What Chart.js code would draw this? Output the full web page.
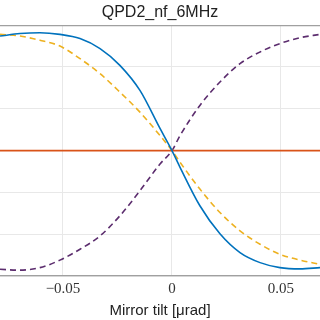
<!DOCTYPE html>
<html>
<head>
<meta charset="utf-8">
<script src="https://cdn.jsdelivr.net/npm/chart.js@4.4.1/dist/chart.umd.min.js"></script>
<style>
  html, body { margin: 0; padding: 0; background: #fff; }
</style>
</head>
<body>
<canvas id="chart" width="320" height="320"></canvas>
<script>
// mirror tilt values (urad), shared by all series
const tiltVals = [-0.0789, -0.0697, -0.0606, -0.0514, -0.0422, -0.0330, -0.0239, -0.0147, -0.0055,
    0, 0.0037, 0.0128, 0.0220, 0.0312, 0.0404, 0.0495, 0.0587, 0.0679];

const blueVals   = [2.74, 2.80, 2.82, 2.78, 2.68, 2.44, 2.04, 1.44, 0.53,
    0, -0.40, -1.32, -1.99, -2.44, -2.68, -2.80, -2.83, -2.80];
const orangeVals = [0, 0, 0, 0, 0, 0, 0, 0, 0,
    0, 0, 0, 0, 0, 0, 0, 0, 0];
const yellowVals = [2.78, 2.74, 2.64, 2.50, 2.20, 1.84, 1.40, 0.92, 0.36,
    0, -0.28, -0.92, -1.48, -1.92, -2.24, -2.48, -2.62, -2.72];
const purpleVals = [-2.84, -2.86, -2.80, -2.62, -2.36, -2.04, -1.56, -0.96, -0.32,
    0, 0.36, 1.08, 1.64, 2.08, 2.36, 2.56, 2.70, 2.78];

const xTicks = [-0.05, 0, 0.05];

function toPoints(vals) {
    return tiltVals.map((x, i) => ({ x: x, y: vals[i] }));
}

function makeSeries(vals, color, dashed) {
    return {
        data: toPoints(vals),
        borderColor: color,
        backgroundColor: color,
        borderWidth: 1.6,
        borderDash: dashed ? [6, 4] : [],
        pointRadius: 0,
        showLine: true,
        cubicInterpolationMode: 'monotone',
        fill: false
    };
}

const gridColor = '#e8e8e8';
const boxColor = '#a0a0a0';

new Chart(document.getElementById('chart').getContext('2d'), {
    type: 'scatter',
    data: {
        datasets: [
            makeSeries(blueVals, '#0072BD', false),
            makeSeries(orangeVals, '#D95319', false),
            makeSeries(yellowVals, '#EDB120', true),
            makeSeries(purpleVals, '#5c2d6e', true)
        ]
    },
    options: {
        responsive: false,
        animation: false,
        layout: { padding: 0 },
        plugins: {
            legend: { display: false },
            tooltip: { enabled: false },
            title: {
                display: true,
                text: 'QPD2_nf_6MHz',
                color: '#222',
                font: { family: 'Liberation Sans', size: 16, weight: 'normal' },
                padding: { top: 3, bottom: 3 }
            }
        },
        scales: {
            x: {
                type: 'linear',
                position: 'bottom',
                min: -0.0789,
                max: 0.0679,
                afterBuildTicks: (axis) => { axis.ticks = xTicks.map(v => ({ value: v })); },
                grid: { color: gridColor, drawTicks: false },
                border: { display: true, color: boxColor, width: 1.2 },
                ticks: {
                    padding: 4,
                    color: '#333',
                    font: { family: 'Liberation Serif', size: 15 },
                    callback: (v) => v < 0 ? '\u2212' + Math.abs(v) : String(v)
                },
                title: {
                    display: true,
                    text: 'Mirror tilt [\u03bcrad]',
                    color: '#222',
                    font: { family: 'Liberation Sans', size: 15 },
                    padding: { top: 0, bottom: 0 }
                }
            },
            x2: {
                type: 'linear',
                position: 'top',
                min: -0.0789,
                max: 0.0679,
                grid: { display: false, drawTicks: false },
                border: { display: true, color: boxColor, width: 1.2 },
                ticks: { display: false }
            },
            y: {
                min: -3,
                max: 3,
                ticks: { display: false, stepSize: 1 },
                grid: { color: gridColor, drawTicks: false },
                border: { display: false }
            }
        }
    }
});
</script>
</body>
</html>
